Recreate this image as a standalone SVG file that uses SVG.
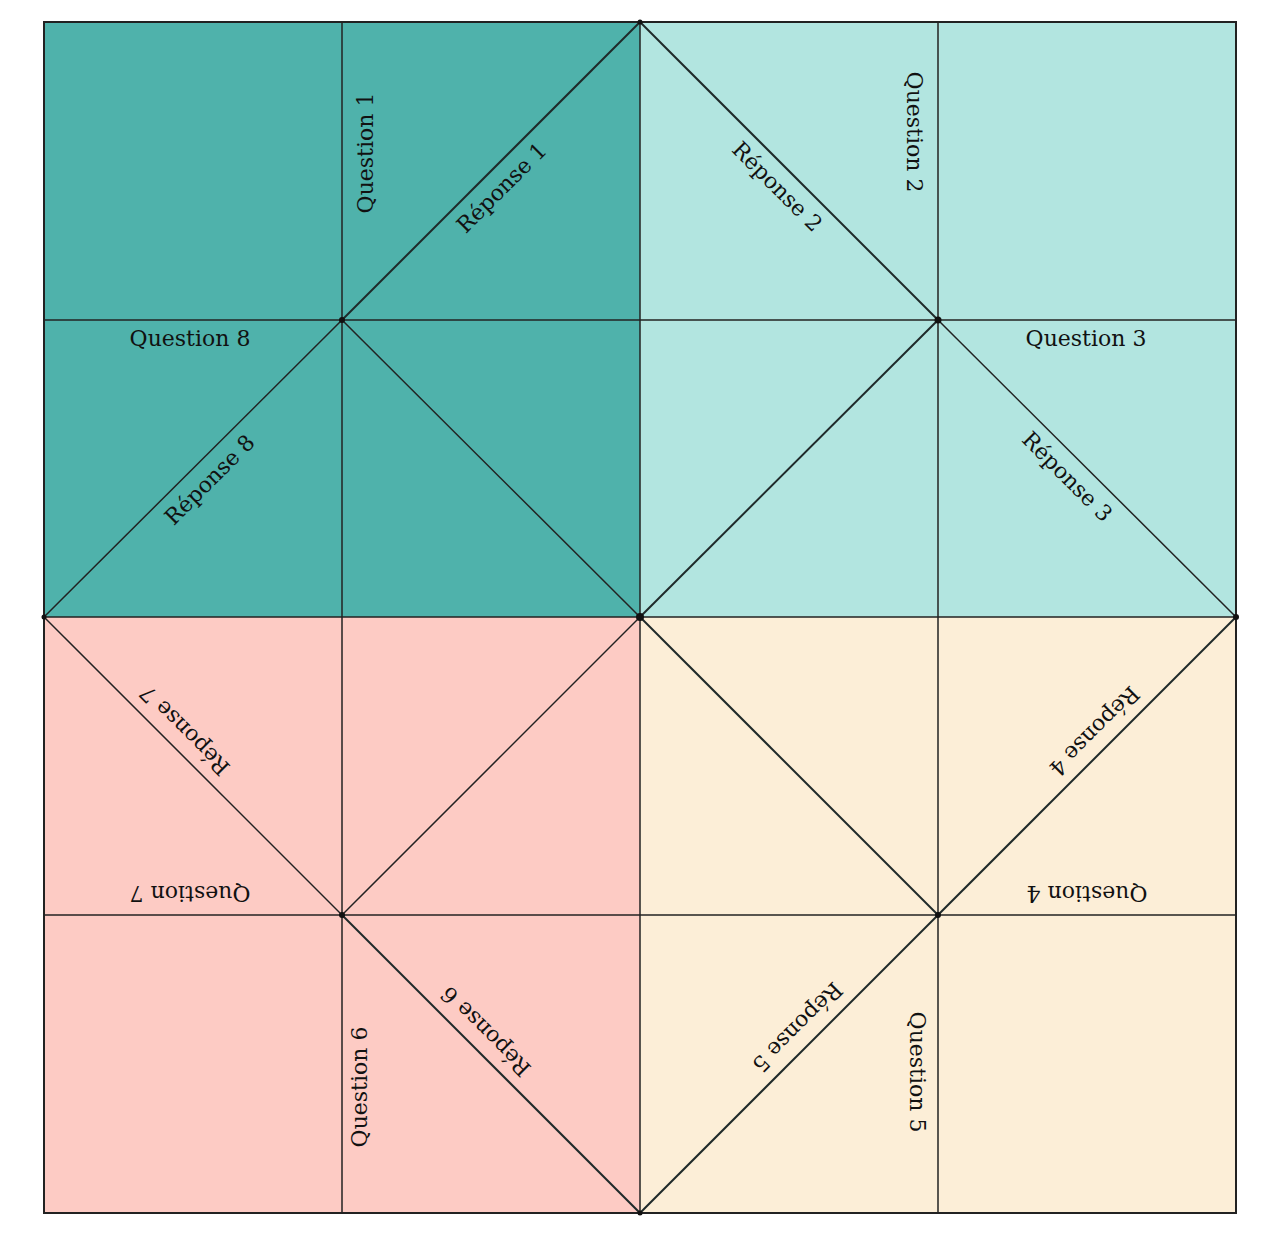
<svg xmlns="http://www.w3.org/2000/svg" width="1280" height="1243" viewBox="0 0 1280 1243">
<style>
.lbl{font-family:"DejaVu Serif","Liberation Serif",serif;font-size:22px;fill:#111;text-anchor:middle}
.ln{stroke:#222;stroke-width:1.5;fill:none}
.dg{stroke:#1f2a2a;stroke-width:2;fill:none}
.dt{fill:#111}
</style>
<rect x="0" y="0" width="1280" height="1243" fill="#ffffff"/>
<g id="quadrant-tl"><rect x="44" y="22" width="596" height="595" fill="#4FB2AB"/></g>
<g id="quadrant-tr"><rect x="640" y="22" width="596" height="595" fill="#B2E5E0"/></g>
<g id="quadrant-bl"><rect x="44" y="617" width="596" height="596" fill="#FDCBC4"/></g>
<g id="quadrant-br"><rect x="640" y="617" width="596" height="596" fill="#FCEED7"/></g>
<g id="connectors">
<line class="ln" x1="342" y1="22" x2="342" y2="1213"/>
<line class="ln" x1="640" y1="22" x2="640" y2="1213"/>
<line class="ln" x1="938" y1="22" x2="938" y2="1213"/>
<line class="ln" x1="44" y1="320" x2="1236" y2="320"/>
<line class="ln" x1="44" y1="617" x2="1236" y2="617"/>
<line class="ln" x1="44" y1="915" x2="1236" y2="915"/>
<line class="dg" x1="342" y1="320" x2="640" y2="22"/>
<line class="ln" x1="342" y1="320" x2="640" y2="617"/>
<line class="ln" x1="342" y1="320" x2="44" y2="617" stroke-width="1.2"/>
<line class="dg" x1="640" y1="22" x2="938" y2="320"/>
<line class="dg" x1="938" y1="320" x2="640" y2="617"/>
<line class="ln" x1="938" y1="320" x2="1236" y2="617"/>
<line class="ln" x1="44" y1="617" x2="342" y2="915"/>
<line class="ln" x1="342" y1="915" x2="640" y2="617"/>
<line class="dg" x1="342" y1="915" x2="640" y2="1213"/>
<line class="dg" x1="640" y1="617" x2="938" y2="915"/>
<line class="dg" x1="938" y1="915" x2="1236" y2="617"/>
<line class="dg" x1="938" y1="915" x2="640" y2="1213"/>
<rect x="44" y="22" width="1192" height="1191" fill="none" stroke="#222" stroke-width="2"/>
<circle class="dt" cx="342" cy="320" r="3"/>
<circle class="dt" cx="640" cy="617" r="4"/>
<circle class="dt" cx="938" cy="320" r="3.5"/>
<circle class="dt" cx="342" cy="915" r="3"/>
<circle class="dt" cx="938" cy="915" r="3"/>
<circle class="dt" cx="640" cy="22" r="2.5"/>
<circle class="dt" cx="44" cy="617" r="2.5"/>
<circle class="dt" cx="1236" cy="617" r="3"/>
<circle class="dt" cx="640" cy="1213" r="2.5"/>
</g>
<g id="question-1"><text class="lbl" transform="translate(373,153) rotate(-90)">Question 1</text></g>
<g id="question-2"><text class="lbl" transform="translate(907,132) rotate(90)">Question 2</text></g>
<g id="question-3"><text class="lbl" x="1086" y="346">Question 3</text></g>
<g id="question-4"><text class="lbl" transform="translate(1087,886) rotate(180)">Question 4</text></g>
<g id="question-5"><text class="lbl" transform="translate(910,1072) rotate(90)">Question 5</text></g>
<g id="question-6"><text class="lbl" transform="translate(367,1087) rotate(-90)">Question 6</text></g>
<g id="question-7"><text class="lbl" transform="translate(190,886) rotate(180)">Question 7</text></g>
<g id="question-8"><text class="lbl" x="190" y="346">Question 8</text></g>
<g id="reponse-1"><text class="lbl" transform="translate(507,193) rotate(-45)">Réponse 1</text></g>
<g id="reponse-2"><text class="lbl" transform="translate(772,192) rotate(45)">Réponse 2</text></g>
<g id="reponse-3"><text class="lbl" transform="translate(1062,482) rotate(45)">Réponse 3</text></g>
<g id="reponse-4"><text class="lbl" transform="translate(1089,726) rotate(135)">Réponse 4</text></g>
<g id="reponse-5"><text class="lbl" transform="translate(792,1022) rotate(135)">Réponse 5</text></g>
<g id="reponse-6"><text class="lbl" transform="translate(491,1026) rotate(225)">Réponse 6</text></g>
<g id="reponse-7"><text class="lbl" transform="translate(190,725) rotate(225)">Réponse 7</text></g>
<g id="reponse-8"><text class="lbl" transform="translate(215,485) rotate(-45)">Réponse 8</text></g>
</svg>
